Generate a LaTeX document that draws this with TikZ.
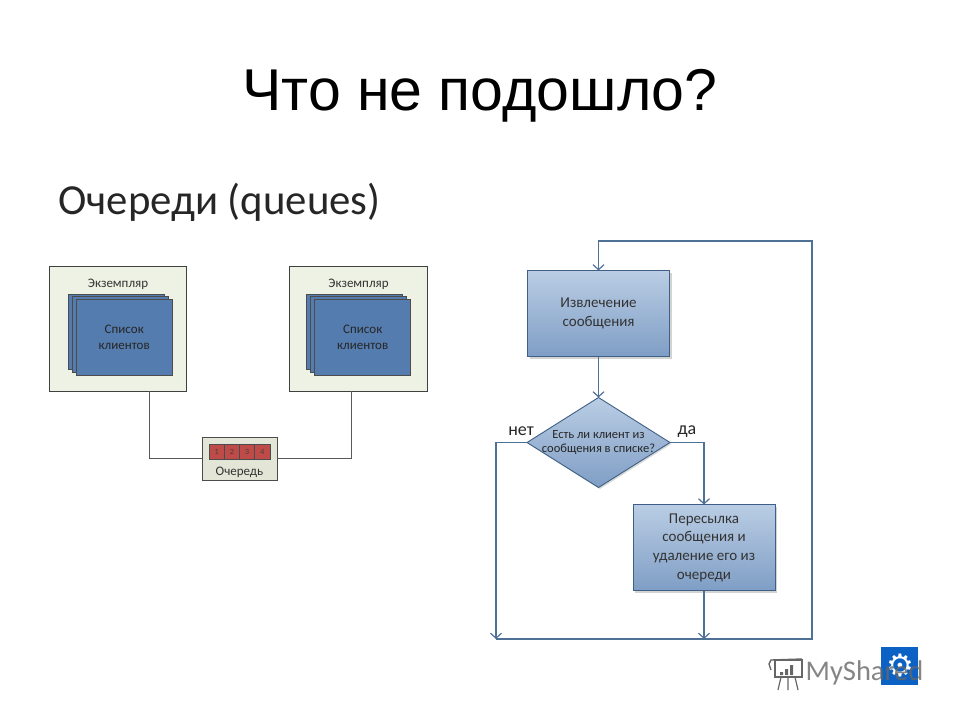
\documentclass[tikz,border=0pt]{standalone}
\usepackage{fontspec}
\setmainfont{Carlito}
\newfontfamily\titlefont{Liberation Sans}
\newfontfamily\gearfont{DejaVu Sans}
\usetikzlibrary{arrows.meta,positioning,shapes.geometric,shadows}

\definecolor{panelgreen}{HTML}{EEF2E4}
\definecolor{queuegreen}{HTML}{E3E6D6}
\definecolor{listblue}{HTML}{557CAE}
\definecolor{flowline}{HTML}{4F7196}
\definecolor{flowdark}{HTML}{3F5F85}
\definecolor{flowtop}{HTML}{BACDE4}
\definecolor{flowbottom}{HTML}{7F9EC5}
\definecolor{cellred}{HTML}{BE4B48}
\definecolor{markblue}{HTML}{0B62C4}

\begin{document}
\begin{tikzpicture}[
    x=1pt,y=-1pt,
    outer sep=0pt,
    panel/.style={rectangle,draw=black!75,fill=panelgreen,line width=0.8pt,minimum width=137.5pt,minimum height=125pt},
    listbox/.style={rectangle,draw=black!70,fill=listblue,line width=0.7pt,minimum width=96pt,minimum height=75.5pt,align=center,font=\fontsize{13}{16}\selectfont,text=black!85},
    cellbox/.style={rectangle,draw=black!70,fill=cellred,line width=0.6pt,minimum width=15.25pt,minimum height=15pt,inner sep=0pt,font=\fontsize{8}{9}\selectfont,text=black!75},
    flowbox/.style={rectangle,draw=flowdark,top color=flowtop,bottom color=flowbottom,line width=0.9pt,minimum width=142pt,minimum height=86pt,align=center,font=\fontsize{15}{18.7}\selectfont,text=black!80,drop shadow={shadow xshift=2pt,shadow yshift=-2pt,opacity=0.35}},
    wire/.style={draw=black!65,line width=1pt},
    arrow/.style={-{Straight Barb[length=5pt,width=11pt]},draw=flowline,line width=1.2pt},
    answer/.style={font=\fontsize{18}{20}\selectfont,text=black!85}
]
\useasboundingbox (0,0) rectangle (960,720);

%--- Headings ---%
\node[font=\titlefont\fontsize{59}{64}\selectfont] (title) at (480,96) {Что не подошло?};
\node[font=\fontsize{42.8}{48}\selectfont,text=black!85] (subtitle) at (219.5,202) {Очереди (queues)};

%--- Instances with client lists ---%
\node[panel] (inst1) at (118,328.5) {};
\node[panel,right=103pt of inst1] (inst2) {};
\node[below=4pt of inst1.north,font=\fontsize{13}{15}\selectfont,text=black!80,yshift=-6pt] (name1) {Экземпляр};
\node[below=4pt of inst2.north,font=\fontsize{13}{15}\selectfont,text=black!80,yshift=-6pt] (name2) {Экземпляр};

\foreach \n/\dx in {1/19pt,2/17pt}{
    \node[listbox,below right=28pt and \dx of inst\n.north west] (back\n) {};
    \node[listbox,below right=2.7pt and 4pt of back\n.north west] (mid\n) {};
    \node[listbox,below right=2.7pt and 4pt of mid\n.north west] (list\n) {Список\\клиентов};
}

%--- Queue ---%
\node[rectangle,draw=black!70,fill=queuegreen,line width=0.8pt,minimum width=75pt,minimum height=43pt] (queue) at (239.5,458.5) {};
\foreach \n in {1,2,3,4}{
    \node[cellbox,below right=7pt and 7pt of queue.north west,xshift={(\n-1)*15.25pt}] (cell\n) {\n};
}
\node[below=0pt of cell2.south east,font=\fontsize{13}{15}\selectfont,text=black!80,yshift=-5pt] (queuename) {Очередь};

\draw[wire] ([xshift=31pt]inst1.south) |- (queue.west);
\draw[wire] ([xshift=-7.5pt]inst2.south) |- (queue.east);

%--- Flowchart ---%
\node[flowbox] (extract) at (598.5,313.5) {Извлечение\\сообщения};
\node[diamond,aspect=1.59,draw=flowdark,top color=flowtop,bottom color=flowbottom,line width=0.9pt,minimum width=143pt,minimum height=90pt,inner sep=-6pt,align=center,font=\fontsize{12.5}{14}\selectfont,text=black!85,drop shadow={shadow xshift=1.5pt,shadow yshift=-1.5pt,opacity=0.3},below=41pt of extract] (ask) {Есть ли клиент из\\сообщения в списке?};
\node[flowbox,below=17pt of ask,xshift=105.5pt] (forward) {Пересылка\\сообщения и\\удаление его из\\очереди};

\coordinate (noend) at (496,639);
\coordinate (yesend) at (forward.south |- noend);
\coordinate (corner) at (812,639);
\coordinate (topline) at (extract.north |- 0,241);

\node[answer] (no) at (521,431) {нет};
\node[answer] (yes) at (687,432) {да};

\draw[arrow] (extract) -- (ask);
\draw[arrow] (ask.east) -| (forward.north);
\draw[arrow] (ask.west) -| (noend);
\draw[arrow] (forward.south) -- (yesend);
\draw[arrow] (noend) -- (corner) -- (corner |- topline) -- (topline) -- (extract.north);

%--- Watermark ---%
\fill[markblue] (881,647) rectangle (918,685);
\node[font=\gearfont\fontsize{31}{31}\selectfont,text=white,inner sep=0pt] (gear) at (900,665) {⚙};
\node[font=\fontsize{28.5}{30}\selectfont,text=black!60,opacity=0.8,inner sep=0pt] (brand) at (864.5,673) {MyShared};
\draw[black!60,line width=1.4pt] (775,660) rectangle (802,677);
\draw[black!60,line width=1.4pt] (775,660) -- (771,660) -- (769,664) -- (771,670) (771,660) -- (802,659);
\fill[black!60] (780,672) rectangle (783,675) (785,669) rectangle (788,675) (790,665) rectangle (793,675);
\draw[black!60,line width=1.2pt] (781,677) -- (778,690) (788,677) -- (788,690) (795,677) -- (798,690);
\end{tikzpicture}
\end{document}
